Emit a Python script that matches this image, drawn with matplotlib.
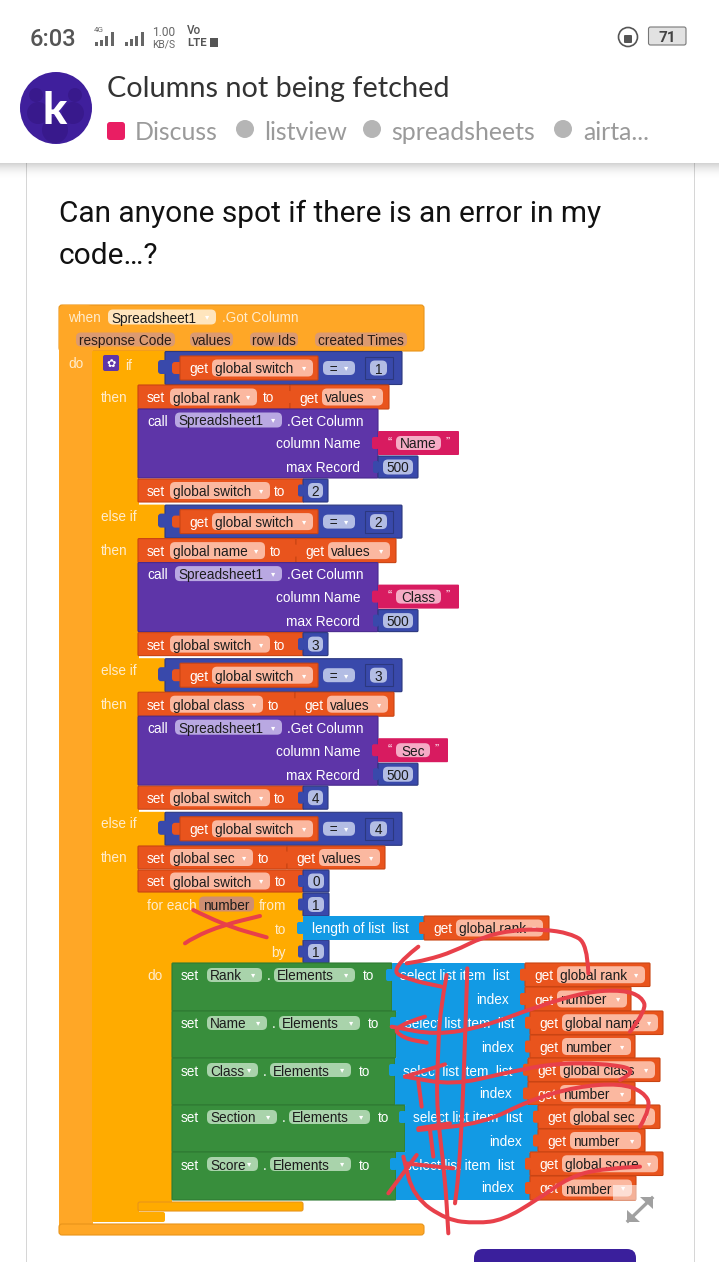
from matplotlib import pyplot as plt
from matplotlib.patches import FancyBboxPatch, Circle, Rectangle, PathPatch, Polygon
from matplotlib.path import Path

# header
title = "Columns not being fetched"
tag_names = ["Discuss", "listview", "spreadsheets", "airta..."]
question_lines = ["Can anyone spot if there is an error in my", "code…?"]

# the four if / else if branches
branch_values = ["1", "2", "3", "4"]
branch_labels = ["if", "else if", "else if", "else if"]
branch_targets = ["global rank", "global name", "global class"]
branch_columns = ["Name", "Class", "Sec"]
branch_next = ["2", "3", "4"]

# the five "set X.Elements" rows
element_names = ["Rank", "Name", "Class", "Section", "Score"]
element_lists = ["global rank", "global name", "global class", "global sec", "global score"]

AMBER = "#ffa726"
IF_AMBER = "#ffab00"
ORANGE = "#e9541d"
PURPLE = "#5e35a8"
NAVY = "#3949ab"
MAGENTA = "#d81b60"
GREEN = "#388e3c"
SKY = "#129ae4"
RED = "#e8404a"
INK = "#1c1c1c"
PALE = "#ffeccc"

fig = plt.figure(figsize=(7.19, 12.62), dpi=100, facecolor="w")
ax = fig.add_axes([0, 0, 1, 1])
ax.set_xlim(0, 719)
ax.set_ylim(1262, 0)
ax.axis("off")


def box(x0, y0, x1, y1, color, r=1.0, edge=None, z=2):
    ax.add_patch(FancyBboxPatch((x0, y0), x1 - x0, y1 - y0, boxstyle="round,pad=0,rounding_size=%s" % r,
                                fc=color, ec=edge if edge else "none", lw=0.8, zorder=z))


def txt(x, y, s, color="white", size=9.8, ha="left", family="Liberation Sans", z=5, **kw):
    ax.text(x, y, s, color=color, fontsize=size, ha=ha, va="center_baseline", family=family, zorder=z, **kw)


def pill(x0, x1, y, s, color, ink=INK, z=4, arrow=True, h=8.5, ha="left"):
    box(x0, y - h, x1, y + h, color, r=5, z=z)
    if ha == "center":
        txt((x0 + x1) / 2, y, s, color=ink, ha="center", z=z + 1)
    else:
        txt(x0 + 3, y, s, color=ink, z=z + 1)
    if arrow:
        txt(x1 - 9, y - 1, "▾", color="white", size=6, ha="center", family="DejaVu Sans", z=z + 1)


def num_block(x0, x1, y0, y1, s, color=NAVY, field="#b3bde4"):
    box(x0, y0, x1, y1, color, r=1, edge="#2c387f", z=3)
    box(x0 - 5, (y0 + y1) / 2 - 6, x0 + 1, (y0 + y1) / 2 + 6, color, r=2, z=3)
    pill(x0 + 5, x1 - 5, (y0 + y1) / 2, s, field, arrow=False, h=7.5, ha="center")


def get_block(x0, x1, y0, y1, s, field_end):
    box(x0, y0, x1, y1, ORANGE, r=1, edge="#c94413", z=3)
    box(x0 - 5, (y0 + y1) / 2 - 6, x0 + 2, (y0 + y1) / 2 + 6, ORANGE, r=2, z=3)
    txt(x0 + 9, (y0 + y1) / 2, "get")
    pill(x0 + 32, field_end, (y0 + y1) / 2, s, "#fbb8a0")


def compare(y, value):
    box(165, y - 16.5, 402, y + 16.5, NAVY, r=1, edge="#2c387f")
    box(158, y - 8, 168, y + 6, NAVY, r=3)
    box(172, y - 6, 182, y + 6, ORANGE, r=3, z=3)
    box(180, y - 12, 318, y + 12, ORANGE, r=1, edge="#c94413", z=3)
    txt(189, y, "get")
    pill(212, 313, y, "global switch", "#fbb8a0")
    pill(323, 355, y, " =", "#b3bde4", h=7)
    ax.add_patch(Rectangle((365, y - 11), 28, 22, fc="none", ec="#2c387f", lw=0.8, zorder=4))
    pill(370, 387, y, value, "#b3bde4", arrow=False, h=7.5, ha="center")


def draw_set(y0, y1, s, field_end, to_x, x1):
    box(138, y0, x1, y1, ORANGE, r=1, edge="#c94413", z=3)
    yc = (y0 + y1) / 2
    txt(147, yc, "set")
    pill(170, field_end, yc, s, "#fbb8a0")
    txt(to_x, yc, "to")


# status bar and header
box(0, 0, 719, 163, "white", r=0.1, z=6)
for i in range(16):
    ax.add_patch(Rectangle((0, 163 + i), 719, 1, fc="#000000", alpha=0.17 * (1 - i / 16) ** 2, ec="none", zorder=5.5))
ax.add_patch(Rectangle((25.5, 163), 1.5, 1100, fc="#d6d6d6", ec="none", zorder=1))
ax.add_patch(Rectangle((693.5, 163), 1.5, 1100, fc="#d6d6d6", ec="none", zorder=1))

txt(30, 37, "6:03", color="#555555", size=17, family="Roboto", weight="medium", z=7)
txt(94, 30, "4G", color="#666666", size=5.8, family="Roboto", z=7)
txt(152, 31, "1.00", color="#666666", size=8.6, family="Roboto", z=7)
txt(152, 44, "KB/S", color="#666666", size=7.4, family="Roboto", z=7)
txt(187, 29, "Vo", color="#555555", size=8.4, family="Roboto", weight="medium", z=7)
txt(187, 42, "LTE", color="#555555", size=8.2, family="Roboto", weight="bold", z=7)
ax.add_patch(Rectangle((210, 38), 8, 9, fc="#555555", ec="none", zorder=7))
for bx in [95, 100, 105, 111, 125, 130, 135, 141]:
    bh = {95: 4, 100: 6, 105: 10, 111: 14, 125: 4, 130: 7, 135: 10, 141: 14}[bx]
    ax.add_patch(Rectangle((bx, 46 - bh), 3, bh, fc="#666666", ec="none", zorder=7))
ax.add_patch(Circle((628, 37), 9.5, fc="none", ec="#555555", lw=1.2, zorder=7))
box(624, 35, 632, 43, "#555555", r=1, z=7)
box(648.5, 27, 686, 45, "#e2e2e2", r=2, edge="#777777", z=7)
txt(667, 36, "71", color="#444444", size=11, ha="center", family="Roboto", weight="bold", z=8)

ax.add_patch(Circle((56, 108), 36, fc="#3f1f9c", ec="none", zorder=7))
for cx, cy, cr in [(38, 113, 11), (73, 113, 11), (55, 130, 13), (36, 95, 7), (75, 95, 7)]:
    ax.add_patch(Circle((cx, cy), cr, fc="#38198c", ec="none", zorder=7.1))
txt(55, 108, "k", color="white", size=32, ha="center", family="Lato", weight="black", z=8)

txt(107, 86, title, color="#333333", size=20.8, family="Lato", z=7)
box(107, 122, 125, 140, "#e91e63", r=3, z=7)
tag_x = [135, 264, 391, 583]
tag_dot = [None, 245, 372, 563]
for name, x, d in zip(tag_names, tag_x, tag_dot):
    txt(x, 131, name, color="#9a9a9a", size=17.9, family="Lato", z=7)
    if d:
        ax.add_patch(Circle((d, 129), 9, fc="#b5b5b5", ec="none", zorder=7))

txt(59, 211, question_lines[0], color="#111111", size=21.55, family="Roboto")
txt(59, 253, question_lines[1], color="#111111", size=21.55, family="Roboto")

# outer event block
box(59, 305, 424, 351, AMBER, r=3, edge="#e8941a", z=1.5)
box(59, 305, 93, 1235, AMBER, r=6, z=1.5)
box(59, 1224, 424, 1235, AMBER, r=3, edge="#e8941a", z=1.5)
txt(68, 317, "when", color=PALE)
pill(108, 216, 317, "Spreadsheet1", "#ffe5bd", h=7.5)
txt(222, 317, ".Got Column", color=PALE)
for s, x0, x1 in [("response Code", 76, 175), ("values", 190, 233), ("row Ids", 250, 298), ("created Times", 315, 407)]:
    pill(x0, x1, 339.5, s, "#dc9a70", ink="#2a1c14", arrow=False, h=7, ha="center")
txt(68, 362, "do", color=PALE)

# if block rail
box(92, 351, 166, 385, IF_AMBER, r=5, z=1.7)
box(92, 351, 139, 1222, IF_AMBER, r=5, z=1.8)
box(92, 1212, 165, 1222, IF_AMBER, r=2, z=1.8)
box(103, 355, 119, 371, PURPLE, r=2, z=3)
txt(111, 363, "✿", size=8, ha="center", family="DejaVu Sans")

step = 153.6
ys = [368 + k * step for k in range(4)]
set_field_end = [257, 265, 263]
set_to_x = [263, 270, 268]
get_x0 = [290, 296, 295]
get_x1 = [389, 396, 394]
get_field = [383, 390, 388]
string_x1 = [459, 459, 448]
string_field = [441, 441, 430]

for k, (yb, val, lab) in enumerate(zip(ys, branch_values, branch_labels)):
    box(92, yb - 17, 165, yb + 18, IF_AMBER, r=1, z=1.9)
    txt(125 if k == 0 else 101, yb - 4 if k == 0 else yb - 6, lab, color=PALE)
    compare(yb, val)
    txt(101, yb + 28, "then", color=PALE)
    if k == 3:
        break
    draw_set(yb + 17, yb + 41, branch_targets[k], set_field_end[k], set_to_x[k], get_x0[k])
    get_block(get_x0[k], get_x1[k], yb + 17, yb + 41, "values", get_field[k])
    # call block
    box(138, yb + 41, 378, yb + 110, PURPLE, r=1, edge="#4a2a8e", z=3)
    txt(147, yb + 52, "call")
    pill(175, 282, yb + 52, "Spreadsheet1", "#b9a8e2", h=7.5)
    txt(287, yb + 52, ".Get Column")
    txt(360, yb + 75, "column Name", ha="right")
    txt(360, yb + 99, "max Record", ha="right")
    box(378, yb + 63, string_x1[k], yb + 87, MAGENTA, r=1, z=3)
    box(372, yb + 69, 379, yb + 81, MAGENTA, r=2, z=3)
    txt(387, yb + 73, "“", size=9)
    pill(396, string_field[k], yb + 75, branch_columns[k], "#f5abc5", arrow=False, h=7, ha="center")
    txt(string_field[k] + 5, yb + 73, "”", size=9)
    num_block(378, 418, yb + 88, yb + 110, "500")
    draw_set(yb + 111, yb + 134, "global switch", 270, 274, 304)
    num_block(303, 328, yb + 111, yb + 134, branch_next[k])

# last branch
draw_set(846, 869, "global sec", 253, 258, 287)
get_block(287, 385, 846, 869, "values", 380)
draw_set(870, 892, "global switch", 270, 275, 304)
num_block(303, 329, 870, 892, "0")

# for each block
box(137, 892, 303, 963, IF_AMBER, r=1, z=2)
box(138, 892, 172, 1211, IF_AMBER, r=4, z=2)
box(138, 1202, 303, 1211, IF_AMBER, r=2, edge="#e8941a", z=2)
txt(147, 904, "for each", color=PALE)
pill(199, 254, 904, "number", "#cf8e72", arrow=False, h=7.5, ha="center")
txt(259, 904, "from", color=PALE)
txt(286, 928, "to", color=PALE, ha="right")
txt(286, 951, "by", color=PALE, ha="right")
txt(147, 974, "do", color=PALE)
num_block(303, 329, 893, 916, "1")
num_block(303, 329, 940, 963, "1")
box(303, 916, 424, 940, SKY, r=1, z=3)
box(297, 922, 304, 934, SKY, r=2, z=3)
txt(312, 928, "length of list  list")
get_block(424, 549, 916, 940, "global rank", 543)

# five element rows
row_y0 = [963, 1011, 1058, 1105, 1152]
row_y1 = [1011, 1058, 1105, 1152, 1200]
green_x1 = [392, 396, 395, 405, 396]
blue_x1 = [525, 530, 528, 538, 530]
list_x1 = [650, 663, 660, 660, 663]
list_field = [645, 658, 655, 655, 658]
index_x1 = [631, 635, 635, 645, 636]
index_field = [627, 631, 631, 641, 632]
name_end = [262, 267, 258, 277, 258]

for i, name in enumerate(element_names):
    y0, y1 = row_y0[i], row_y1[i]
    gx, bx = green_x1[i], blue_x1[i]
    box(172, y0, gx, y1, GREEN, r=1, edge="#2f7a33", z=3)
    yc = y0 + 12
    txt(181, yc, "set")
    pill(207, name_end[i], yc, name, "#a9d3ab", h=7)
    txt(name_end[i] + 5, yc, ".")
    pill(name_end[i] + 12, name_end[i] + 93, yc, "Elements", "#a9d3ab", h=7)
    txt(name_end[i] + 101, yc, "to")
    box(gx, y0, bx, y1, SKY, r=1, z=3)
    box(gx - 6, yc - 6, gx + 1, yc + 6, SKY, r=2, z=3)
    txt(bx - 16, yc, "select list item  list", ha="right")
    txt(bx - 16, yc + 23, "index", ha="right")
    get_block(bx, list_x1[i], y0, y0 + 23.5, element_lists[i], list_field[i])
    get_block(bx, index_x1[i], y0 + 24, y1, "number", index_field[i])

# image overlay corner + expand icon + button
ax.add_patch(Rectangle((613, 1185), 24, 15, fc="white", alpha=0.55, ec="none", zorder=7))
ax.plot([628, 652], [1221, 1198], color="#a0a0a0", lw=2.4, zorder=8)
ax.add_patch(Polygon([[627, 1222], [627, 1210], [640, 1222]], fc="#a0a0a0", ec="none", zorder=8))
ax.add_patch(Polygon([[653, 1197], [653, 1209], [640, 1197]], fc="#a0a0a0", ec="none", zorder=8))
box(474, 1249, 636, 1275, "#3a1f9c", r=9, z=8)


# red freehand marks, traced in zoom-crop pixels
def stroke(points, ox, oy, scale=3.0):
    pts = [(ox + p[0] / scale, oy + p[1] / scale) for p in points]
    verts = [pts[0]]
    codes = [Path.MOVETO]
    for a, b in zip(pts[1:-1], pts[2:]):
        verts += [a, ((a[0] + b[0]) / 2, (a[1] + b[1]) / 2)]
        codes += [Path.CURVE3, Path.CURVE3]
    verts.append(pts[-1])
    codes.append(Path.LINETO)
    ax.add_patch(PathPatch(Path(verts, codes), fc="none", ec=RED, lw=2.9, capstyle="round", joinstyle="round", zorder=9))


scribbles = [
    [(655, 190), (652, 100), (600, 70), (520, 58), (430, 60), (340, 80), (250, 125), (170, 150), (110, 160)],
    [(145, 110), (55, 180), (120, 210), (215, 230)],
    [(230, 195), (210, 300), (203, 450), (200, 600), (225, 800), (235, 970)],
    [(292, 175), (285, 400), (275, 650), (265, 800), (255, 880)],
    [(780, 365), (830, 300), (815, 260), (760, 240), (650, 245), (500, 290), (340, 350), (200, 375), (65, 350)],
    [(165, 320), (65, 350), (100, 385), (170, 398)],
    [(750, 510), (810, 480), (700, 460), (550, 460), (400, 490), (250, 525), (105, 500)],
    [(225, 463), (105, 500)],
    [(145, 515), (155, 590)],
    [(810, 650), (845, 590), (820, 545), (750, 520), (620, 530), (480, 570), (340, 640), (145, 660)],
    [(240, 640), (145, 655)],
    [(180, 660), (190, 740)],
    [(810, 770), (700, 775), (600, 800), (500, 870), (400, 930), (320, 940), (230, 930), (130, 860), (100, 740)],
    [(140, 735), (55, 850)],
    [(105, 760), (250, 775)],
]
for s in scribbles:
    stroke(s, 370, 910)

cross = [
    [(190, 180), (280, 225), (410, 262)],
    [(165, 280), (190, 262), (280, 225), (390, 198)],
]
for s in cross:
    stroke(s, 130, 850)

plt.savefig("out.png", dpi=100)
